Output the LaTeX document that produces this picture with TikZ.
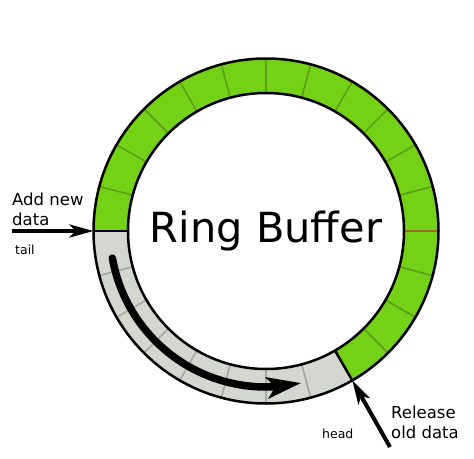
\documentclass[tikz,border=0pt]{standalone}
\usepackage{fontspec}
\setmainfont{DejaVu Sans}
\usetikzlibrary{arrows.meta,bending,calc}
\definecolor{ringgreen}{HTML}{73D216}
\definecolor{ringgray}{HTML}{D3D7CF}
\definecolor{greendiv}{HTML}{5A9E14}
\definecolor{browndiv}{HTML}{9A6A24}
\definecolor{graydiv}{HTML}{A5A7A2}
\begin{document}
\begin{tikzpicture}[x=1pt,y=1pt,
  lbl/.style={inner sep=0pt, font=\fontsize{16.5}{20}\selectfont, align=left},
  small/.style={inner sep=0pt, font=\fontsize{12.5}{14}\selectfont},
  bigarrow/.style={line width=4pt, -{Stealth[length=24pt,width=13pt,inset=6pt]}},
  ringline/.style={line width=2.5pt, black},
  divline/.style={line width=1.6pt},
]
\useasboundingbox (0,0) rectangle (474,-458);
\coordinate (c) at (266,-231);
\def\ro{172.5pt}\def\ri{138pt}
% sectors
\fill[ringgreen] ($(c)+(-60:\ro)$) arc[start angle=-60,end angle=180,radius=\ro]
  -- ($(c)+(180:\ri)$) arc[start angle=180,end angle=-60,radius=\ri] -- cycle;
\fill[ringgray] ($(c)+(180:\ro)$) arc[start angle=180,end angle=300,radius=\ro]
  -- ($(c)+(300:\ri)$) arc[start angle=300,end angle=180,radius=\ri] -- cycle;
% dividers
\foreach \a in {-45,-30,-15,15,30,...,165}
  \draw[divline, greendiv] ($(c)+(\a:\ri)$) -- ($(c)+(\a:\ro)$);
\draw[divline, browndiv] ($(c)+(0:\ri)$) -- ($(c)+(0:\ro)$);
\foreach \a in {195,210,...,285}
  \draw[divline, graydiv] ($(c)+(\a:\ri)$) -- ($(c)+(\a:\ro)$);
% borders
\draw[ringline] (c) circle[radius=\ro];
\draw[ringline] (c) circle[radius=\ri];
\coordinate (tailin) at ($(c)+(180:\ri)$);
\coordinate (tailout) at ($(c)+(180:\ro)$);
\coordinate (headin) at ($(c)+(-60:\ri)$);
\coordinate (headout) at ($(c)+(-60:\ro)$);
\draw[ringline] (tailin) -- (tailout);
\draw[ringline] (headin) -- (headout);
% flow arrow
\coordinate (flowstart) at ($(c)+(190:156pt)$);
\draw[line width=7.5pt, line cap=round, -{Stealth[length=34pt,width=21pt,inset=8pt]}]
  (flowstart) arc[start angle=190,end angle=283,radius=156pt];
% title
\node[font=\fontsize{41.5}{48}\selectfont, inner sep=0pt, anchor=base] (title) at (266,-242) {Ring Buffer};
% labels
\node[lbl, anchor=base west] (add) at (12,-225) {Add new\\data};
\node[small, anchor=base west] (tail) at (15,-254) {tail};
\node[small, anchor=base west] (head) at (322,-438) {head};
\node[lbl, anchor=base west] (release) at (391,-438) {Release\\old data};
% arrows
\coordinate (addstart) at (12,-231);
\draw[bigarrow] (addstart) -- (tailout);
\coordinate (relstart) at (390,-447);
\draw[bigarrow] (relstart) -- (headout);
\end{tikzpicture}
\end{document}
